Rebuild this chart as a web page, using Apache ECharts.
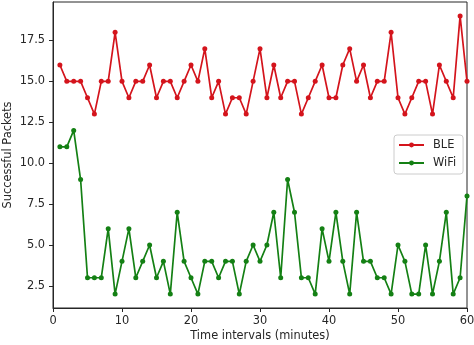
<!DOCTYPE html>
<html>
<head>
<meta charset="utf-8">
<script src="https://cdn.jsdelivr.net/npm/echarts@6/dist/echarts.min.js"></script>
<style>
html,body{margin:0;padding:0;background:#fff;}
#chart{width:474px;height:345px;}
</style>
</head>
<body>
<div id="chart"></div>
<script>
var minutes = [1,2,3,4,5,6,7,8,9,10,11,12,13,14,15,16,17,18,19,20,21,22,23,24,25,26,27,28,29,30,31,32,33,34,35,36,37,38,39,40,41,42,43,44,45,46,47,48,49,50,51,52,53,54,55,56,57,58,59,60];
var bleValues = [16,15,15,15,14,13,15,15,18,15,14,15,15,16,14,15,15,14,15,16,15,17,14,15,13,14,14,13,15,17,14,16,14,15,15,13,14,15,16,14,14,16,17,15,16,14,15,15,18,14,13,14,15,15,13,16,15,14,19,15];
var wifiValues = [11,11,12,9,3,3,3,6,2,4,6,3,4,5,3,4,2,7,4,3,2,4,4,3,4,4,2,4,5,4,5,7,3,9,7,3,3,2,6,4,7,4,2,7,4,4,3,3,2,5,4,2,2,5,2,4,7,2,3,8];
var yTickValues = [2.5,5.0,7.5,10.0,12.5,15.0,17.5];
var seriesNames = ['BLE','WiFi'];

function pairs(xs, ys){ return xs.map(function(x,i){ return [x, ys[i]]; }); }

var font = 'DejaVu Sans';
var fs = 11.4;
var ink = '#262626';
var chart = echarts.init(document.getElementById('chart'), null, {renderer:'canvas'});
chart.setOption({
  animation:false,
  backgroundColor:'#ffffff',
  textStyle:{fontFamily:font},
  grid:{left:53, right:7, top:2, bottom:37, show:true, borderColor:ink, borderWidth:1,
        containLabel:false, outerBoundsMode:'none'},
  legend:{
    orient:'vertical', left:394, top:135,
    data:seriesNames,
    itemWidth:25, itemHeight:6, itemGap:4,
    padding:[3,7,4,4],
    borderColor:'#cccccc', borderWidth:1, borderRadius:3,
    backgroundColor:'#ffffff',
    textStyle:{fontFamily:font, fontSize:fs, color:ink, lineHeight:14, padding:[0,0,0,4]}
  },
  xAxis:{
    type:'value', min:0, max:60, interval:10,
    name:'Time intervals (minutes)', nameLocation:'middle', nameGap:23, nameMoveOverlap:false,
    nameTextStyle:{fontFamily:font, fontSize:fs, color:ink},
    axisLine:{show:true, lineStyle:{color:ink, width:1}},
    axisTick:{show:true, inside:false, length:4, lineStyle:{color:ink}},
    axisLabel:{fontFamily:font, fontSize:fs, color:ink, margin:8},
    splitLine:{show:false}
  },
  yAxis:{
    type:'value', min:1.15, max:19.85,
    name:'Successful Packets', nameLocation:'middle', nameGap:39, nameMoveOverlap:false,
    nameTextStyle:{fontFamily:font, fontSize:fs, color:ink},
    axisLine:{show:true, lineStyle:{color:ink, width:1}},
    axisTick:{show:true, inside:false, length:4, lineStyle:{color:ink}, customValues:yTickValues},
    axisLabel:{fontFamily:font, fontSize:fs, color:ink, margin:8, customValues:yTickValues,
      formatter:function(v){ return Number(v).toFixed(1); }},
    splitLine:{show:false}
  },
  series:[
    {name:seriesNames[0], type:'line', data:pairs(minutes, bleValues),
     symbol:'circle', symbolSize:5, showAllSymbol:true,
     itemStyle:{color:'#d4141c'}, lineStyle:{color:'#d4141c', width:1.7}},
    {name:seriesNames[1], type:'line', data:pairs(minutes, wifiValues),
     symbol:'circle', symbolSize:5, showAllSymbol:true,
     itemStyle:{color:'#148014'}, lineStyle:{color:'#148014', width:1.7}}
  ]
});
</script>
</body>
</html>
